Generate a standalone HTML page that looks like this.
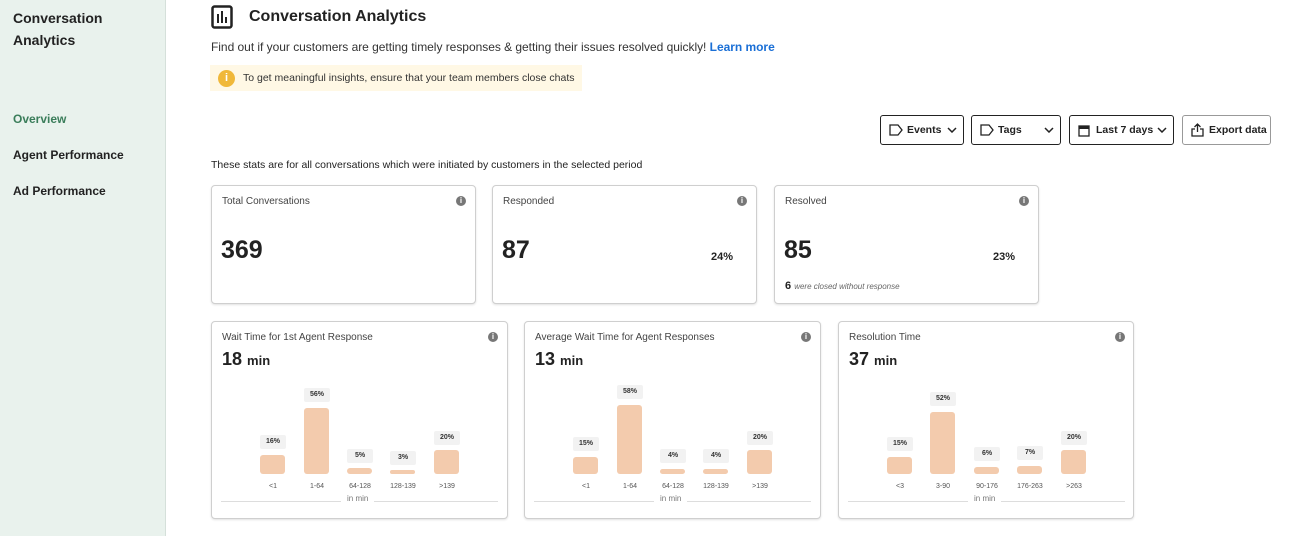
<!DOCTYPE html>
<html><head><meta charset="utf-8"><style>
*{box-sizing:border-box;margin:0;padding:0}
body{width:1308px;height:536px;overflow:hidden;background:#fff;font-family:"Liberation Sans",sans-serif;color:#222;position:relative}
.a{position:absolute;white-space:nowrap}
.side{left:0;top:0;width:166px;height:536px;background:#e9f2ed;border-right:1px solid #d5e0da}
.card{position:absolute;border:1px solid #cfcfcf;border-radius:4px;background:#fff;box-shadow:0 1px 2px rgba(0,0,0,.12)}
.ct{font-size:10px;color:#444}
.info{position:absolute;width:10px;height:10px;border-radius:50%;background:#777;color:#fff;font-size:8px;font-weight:bold;text-align:center;line-height:10px}
.big{font-size:25px;font-weight:bold;color:#222}
.bar{position:absolute;width:25px;background:#f3cbad;border-radius:3px}
.pl{position:absolute;width:26px;height:14px;background:#f2f2f2;border-radius:2px;font-size:7px;font-weight:bold;text-align:center;line-height:14px;color:#333}
.cl{position:absolute;width:40px;text-align:center;font-size:7px;color:#555}
.btn{position:absolute;top:115px;height:30px;border:1px solid #222;border-radius:3px;font-size:10.5px;font-weight:bold;line-height:28px;background:#fff}
</style></head><body>
<div class="a side"></div>
<div class="a" style="left:13px;top:7px;font-size:14px;font-weight:bold;line-height:22px;color:#222">Conversation<br>Analytics</div>
<div class="a" style="left:13px;top:112px;font-size:12px;font-weight:bold;color:#3a7d5a">Overview</div>
<div class="a" style="left:13px;top:148px;font-size:12px;font-weight:bold;color:#222">Agent Performance</div>
<div class="a" style="left:13px;top:184px;font-size:12px;font-weight:bold;color:#222">Ad Performance</div>

<svg class="a" style="left:211px;top:5px" width="22" height="24"><rect x="1.5" y="1.5" width="19" height="21" rx="2" fill="none" stroke="#222" stroke-width="2.5"/><rect x="6" y="9" width="2" height="9" fill="#222"/><rect x="10" y="6" width="2" height="12" fill="#222"/><rect x="14" y="12" width="2" height="6" fill="#222"/></svg>
<div class="a" style="left:249px;top:8px;font-size:16px;font-weight:bold">Conversation Analytics</div>
<div class="a" style="left:211px;top:40px;font-size:12px;color:#333;letter-spacing:-0.03px">Find out if your customers are getting timely responses &amp; getting their issues resolved quickly! <b style="color:#1a6fd6">Learn more</b></div>
<div class="a" style="left:210px;top:65px;width:372px;height:26px;background:#fff8e5"></div>
<div class="a" style="left:218px;top:70px;width:17px;height:17px;border-radius:50%;background:#f0b83a;color:#fff;font-size:11px;font-weight:bold;text-align:center;line-height:17px">i</div>
<div class="a" style="left:243px;top:72px;font-size:10.5px;color:#333">To get meaningful insights, ensure that your team members close chats</div>

<div class="btn" style="left:880px;width:84px"><svg class="a" style="left:8px;top:8px" width="14" height="12"><path d="M1 1H9L13 6L9 11H1Z" fill="none" stroke="#222" stroke-width="1.3"/></svg><span class="a" style="left:26px">Events</span><svg class="a" style="left:66px;top:11px" width="10" height="6"><path d="M1 1L5 5L9 1" fill="none" stroke="#222" stroke-width="1.5"/></svg></div>
<div class="btn" style="left:971px;width:90px"><svg class="a" style="left:8px;top:8px" width="14" height="12"><path d="M1 1H9L13 6L9 11H1Z" fill="none" stroke="#222" stroke-width="1.3"/></svg><span class="a" style="left:26px">Tags</span><svg class="a" style="left:72px;top:11px" width="10" height="6"><path d="M1 1L5 5L9 1" fill="none" stroke="#222" stroke-width="1.5"/></svg></div>
<div class="btn" style="left:1069px;width:105px"><svg class="a" style="left:8px;top:8px" width="12" height="13"><rect x="1" y="2" width="10" height="10" fill="none" stroke="#222" stroke-width="1.3"/><rect x="1" y="2" width="10" height="3" fill="#222"/></svg><span class="a" style="left:26px">Last 7 days</span><svg class="a" style="left:87px;top:11px" width="10" height="6"><path d="M1 1L5 5L9 1" fill="none" stroke="#222" stroke-width="1.5"/></svg></div>
<div class="btn" style="left:1182px;width:89px;border-color:#999"><svg class="a" style="left:8px;top:7px" width="13" height="14"><path d="M4 6H1V13H12V6H9M6.5 9V1M3.5 4L6.5 1L9.5 4" fill="none" stroke="#222" stroke-width="1.3"/></svg><span class="a" style="left:26px">Export data</span></div>

<div class="a" style="left:211px;top:159px;font-size:10.5px;color:#222">These stats are for all conversations which were initiated by customers in the selected period</div>

<div class="card" style="left:211px;top:185px;width:265px;height:119px"><div class="a ct" style="left:10px;top:10px">Total Conversations</div><div class="info" style="left:244px;top:10px">i</div><div class="a big" style="left:9px;top:50px">369</div></div>
<div class="card" style="left:492px;top:185px;width:265px;height:119px"><div class="a ct" style="left:10px;top:10px">Responded</div><div class="info" style="left:244px;top:10px">i</div><div class="a big" style="left:9px;top:50px">87</div><div class="a" style="left:218px;top:65px;font-size:11px;font-weight:bold">24%</div></div>
<div class="card" style="left:774px;top:185px;width:265px;height:119px"><div class="a ct" style="left:10px;top:10px">Resolved</div><div class="info" style="left:244px;top:10px">i</div><div class="a big" style="left:9px;top:50px">85</div><div class="a" style="left:218px;top:65px;font-size:11px;font-weight:bold">23%</div><div class="a" style="left:10px;top:94px;font-size:11px;font-weight:bold">6 <i style="font-size:8px;font-weight:normal;color:#666">were closed without response</i></div></div>

<!-- chart 1 -->
<div class="card" style="left:211px;top:321px;width:297px;height:198px">
<div class="a ct" style="left:10px;top:10px">Wait Time for 1st Agent Response</div><div class="info" style="left:276px;top:10px">i</div>
<div class="a" style="left:10px;top:27px;font-size:18px;font-weight:bold">18 <span style="font-size:13px">min</span></div>
<div class="bar" style="left:48px;top:133px;height:19px"></div><div class="pl" style="left:48px;top:113px">16%</div><div class="cl" style="left:41px;top:161px">&lt;1</div>
<div class="bar" style="left:92px;top:86px;height:66px"></div><div class="pl" style="left:92px;top:66px">56%</div><div class="cl" style="left:85px;top:161px">1-64</div>
<div class="bar" style="left:135px;top:146px;height:6px"></div><div class="pl" style="left:135px;top:127px">5%</div><div class="cl" style="left:128px;top:161px">64-128</div>
<div class="bar" style="left:178px;top:148px;height:4px"></div><div class="pl" style="left:178px;top:129px">3%</div><div class="cl" style="left:171px;top:161px">128-139</div>
<div class="bar" style="left:222px;top:128px;height:24px"></div><div class="pl" style="left:222px;top:109px">20%</div><div class="cl" style="left:215px;top:161px">&gt;139</div>
<div class="a" style="left:9px;top:179px;width:277px;border-top:1px solid #ddd"></div>
<div class="a" style="left:129px;top:172px;background:#fff;padding:0 6px;font-size:8px;color:#777">in min</div>
</div>
<!-- chart 2 -->
<div class="card" style="left:524px;top:321px;width:297px;height:198px">
<div class="a ct" style="left:10px;top:10px">Average Wait Time for Agent Responses</div><div class="info" style="left:276px;top:10px">i</div>
<div class="a" style="left:10px;top:27px;font-size:18px;font-weight:bold">13 <span style="font-size:13px">min</span></div>
<div class="bar" style="left:48px;top:135px;height:17px"></div><div class="pl" style="left:48px;top:115px">15%</div><div class="cl" style="left:41px;top:161px">&lt;1</div>
<div class="bar" style="left:92px;top:83px;height:69px"></div><div class="pl" style="left:92px;top:63px">58%</div><div class="cl" style="left:85px;top:161px">1-64</div>
<div class="bar" style="left:135px;top:147px;height:5px"></div><div class="pl" style="left:135px;top:127px">4%</div><div class="cl" style="left:128px;top:161px">64-128</div>
<div class="bar" style="left:178px;top:147px;height:5px"></div><div class="pl" style="left:178px;top:127px">4%</div><div class="cl" style="left:171px;top:161px">128-139</div>
<div class="bar" style="left:222px;top:128px;height:24px"></div><div class="pl" style="left:222px;top:109px">20%</div><div class="cl" style="left:215px;top:161px">&gt;139</div>
<div class="a" style="left:9px;top:179px;width:277px;border-top:1px solid #ddd"></div>
<div class="a" style="left:129px;top:172px;background:#fff;padding:0 6px;font-size:8px;color:#777">in min</div>
</div>
<!-- chart 3 -->
<div class="card" style="left:838px;top:321px;width:296px;height:198px">
<div class="a ct" style="left:10px;top:10px">Resolution Time</div><div class="info" style="left:276px;top:10px">i</div>
<div class="a" style="left:10px;top:27px;font-size:18px;font-weight:bold">37 <span style="font-size:13px">min</span></div>
<div class="bar" style="left:48px;top:135px;height:17px"></div><div class="pl" style="left:48px;top:115px">15%</div><div class="cl" style="left:41px;top:161px">&lt;3</div>
<div class="bar" style="left:91px;top:90px;height:62px"></div><div class="pl" style="left:91px;top:70px">52%</div><div class="cl" style="left:84px;top:161px">3-90</div>
<div class="bar" style="left:135px;top:145px;height:7px"></div><div class="pl" style="left:135px;top:125px">6%</div><div class="cl" style="left:128px;top:161px">90-176</div>
<div class="bar" style="left:178px;top:144px;height:8px"></div><div class="pl" style="left:178px;top:124px">7%</div><div class="cl" style="left:171px;top:161px">176-263</div>
<div class="bar" style="left:222px;top:128px;height:24px"></div><div class="pl" style="left:222px;top:109px">20%</div><div class="cl" style="left:215px;top:161px">&gt;263</div>
<div class="a" style="left:9px;top:179px;width:277px;border-top:1px solid #ddd"></div>
<div class="a" style="left:129px;top:172px;background:#fff;padding:0 6px;font-size:8px;color:#777">in min</div>
</div>
</body></html>
